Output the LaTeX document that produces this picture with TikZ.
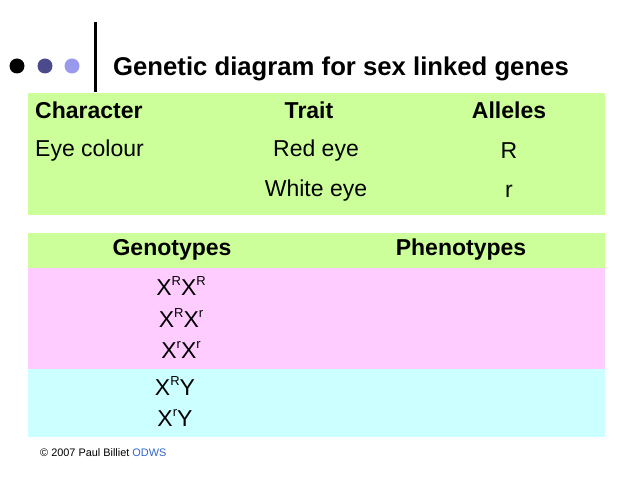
\documentclass[tikz,border=0pt]{standalone}
\usepackage{fontspec}
\setmainfont{Liberation Sans}
\definecolor{lgreen}{HTML}{CCFF99}
\definecolor{lpink}{HTML}{FFCCFF}
\definecolor{lcyan}{HTML}{CCFFFF}
\definecolor{dotb}{HTML}{4A4A8C}
\definecolor{dotc}{HTML}{9999EE}
\definecolor{odws}{HTML}{3366CC}
\newcommand{\sps}[1]{\raisebox{0.45em}{\fontsize{13}{14}\selectfont #1}}
\begin{document}
\begin{tikzpicture}[x=1pt,y=-1pt,
  txt/.style={inner sep=0pt,font=\fontsize{23}{25}\selectfont},
  hd/.style={txt,font=\fontsize{23}{25}\selectfont\bfseries}]
\useasboundingbox (0,0) rectangle (638,478);
\fill[white] (0,0) rectangle (638,478);
\fill[black] (17,66) circle (7.5);
\fill[dotb] (45,66) circle (7.5);
\fill[dotc] (72,66) circle (7.5);
\draw[line width=3pt] (95,22) -- (95,92);
\node[anchor=west,inner sep=0pt,font=\fontsize{25.7}{27}\selectfont\bfseries] (title) at (113,69) {Genetic diagram for sex linked genes};
\fill[lgreen] (28,93) rectangle (605,215);
\fill[lgreen] (28,233) rectangle (605,268);
\fill[lpink] (28,268) rectangle (605,369);
\fill[lcyan] (28,369) rectangle (605,437);
\node[hd,anchor=west] (c1) at (35,110) {Character};
\node[hd] (c2) at (309,110) {Trait};
\node[hd] (c3) at (509,110) {Alleles};
\node[txt,anchor=west] (e1) at (35,151) {Eye colour};
\node[txt] (e2) at (316,151) {Red eye};
\node[txt] (e3) at (509,151) {R};
\node[txt] (w2) at (316,191) {White eye};
\node[txt] (w3) at (509,191) {r};
\node[hd] (g) at (172,250) {Genotypes};
\node[hd] (p) at (461,250) {Phenotypes};
\node[txt] (g1) at (181,286) {X\sps{R}X\sps{R}};
\node[txt] (g2) at (181,318) {X\sps{R}X\sps{r}};
\node[txt] (g3) at (181,350) {X\sps{r}X\sps{r}};
\node[txt] (g4) at (175,386) {X\sps{R}Y};
\node[txt] (g5) at (175,418) {X\sps{r}Y};
\node[anchor=west,inner sep=0pt,font=\fontsize{10.9}{12}\selectfont] (f) at (40,453) {© 2007 Paul Billiet \textcolor{odws}{ODWS}};
\end{tikzpicture}
\end{document}
